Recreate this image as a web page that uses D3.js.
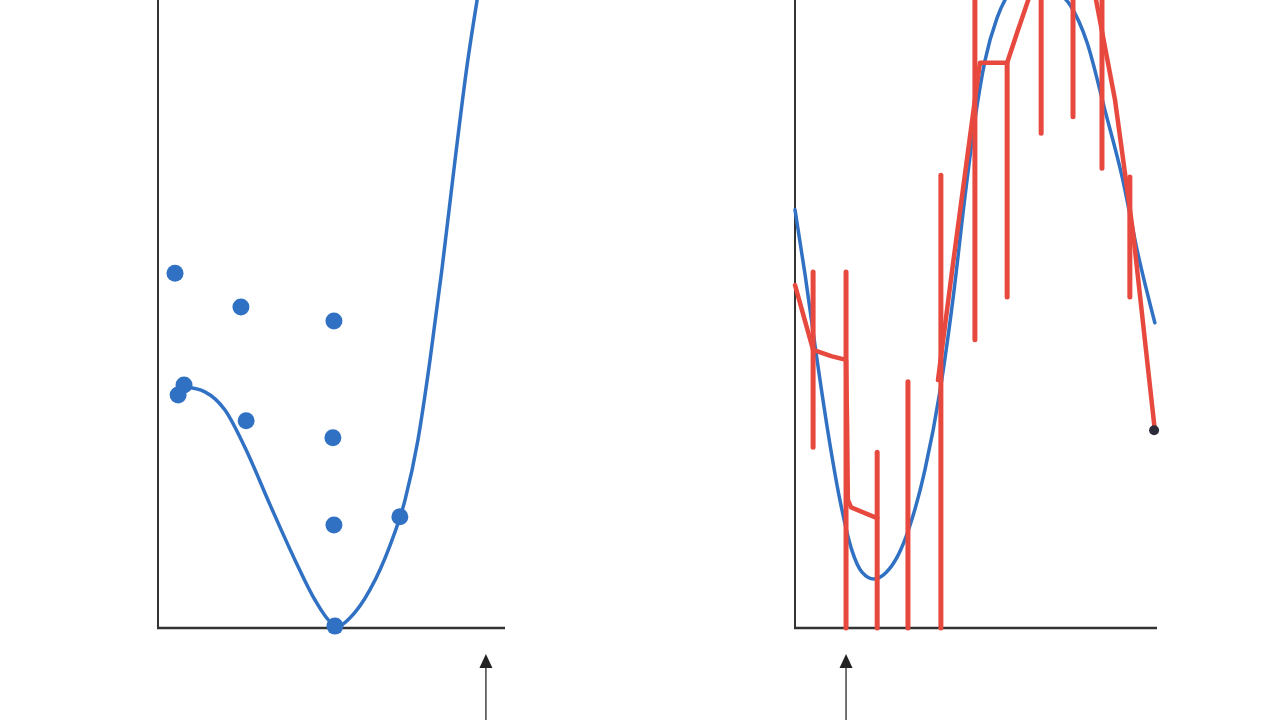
<!DOCTYPE html>
<html>
<head>
<meta charset="utf-8">
<script src="https://cdn.jsdelivr.net/npm/d3@7"></script>
<style>
  html, body { margin: 0; padding: 0; background: #fff; }
  svg { display: block; }
</style>
</head>
<body>
<svg width="1280" height="720"></svg>
<script>
// left panel: sample points and fitted curve
const leftPoints = [
  [0.49, 5.65], [2.39, 5.11], [5.07, 4.89], [0.75, 3.87], [0.58, 3.71],
  [2.54, 3.30], [5.04, 3.03], [5.07, 1.64], [6.97, 1.77], [5.10, 0.03]
];
const leftCurve = [
  [0.78, 3.84], [1.35, 3.76], [1.93, 3.47], [2.51, 2.87], [3.23, 1.96],
  [3.95, 1.08], [4.52, 0.45], [4.96, 0.10], [5.19, 0.03], [5.53, 0.16],
  [6.11, 0.61], [6.69, 1.32], [7.12, 2.04], [7.49, 2.99], [7.84, 4.27],
  [8.18, 5.70], [8.56, 7.45], [8.90, 8.93], [9.22, 10.08]
];
const leftArrowX = 9.45;

// right panel: target curve, red fit pieces, vertical spikes
const rightCurve = [
  [0, 6.66], [0.28, 5.62], [0.55, 4.51], [0.88, 3.23], [1.24, 2.04],
  [1.57, 1.24], [1.85, 0.89], [2.18, 0.78], [2.51, 0.88], [2.85, 1.16],
  [3.18, 1.64], [3.59, 2.52], [4.01, 3.79], [4.36, 5.22], [4.70, 6.89],
  [4.97, 8.09], [5.25, 9.04], [5.58, 9.71], [5.99, 10.16], [6.57, 10.35],
  [7.18, 10.16], [7.60, 9.92], [8.07, 9.32], [8.56, 8.25], [9.03, 7.20],
  [9.48, 5.94], [9.94, 4.86]
];
const redPieces = [
  [[0, 5.46], [0.50, 4.43], [1.00, 4.33], [1.41, 4.27], [1.44, 3.2], [1.46, 2.04], [1.55, 1.92], [2.27, 1.75]],
  [[3.95, 3.95], [4.36, 5.78], [4.97, 8.41], [5.11, 9.0], [5.86, 9.0], [6.13, 9.47], [6.49, 10.08]],
  [[8.29, 10.08], [8.84, 8.41], [9.34, 6.29], [9.94, 3.15]]
];
const spikes = [
  [0.50, 5.67, 2.88], [1.41, 5.67, 0], [2.27, 2.80, 0], [3.12, 3.92, 0],
  [4.03, 7.21, 0], [4.97, 10.2, 4.59], [5.86, 9.0, 5.27], [6.80, 10.2, 7.88],
  [7.68, 10.2, 8.14], [8.48, 10.2, 7.32], [9.25, 7.18, 5.27]
];
const endPoint = [9.92, 3.15];
const rightArrowX = 1.41;

const blue = '#3071c3';
const red = '#e8493f';
const axisColor = '#333';

const svg = d3.select('svg');

const xL = d3.scaleLinear().domain([0, 10]).range([158, 505]);
const xR = d3.scaleLinear().domain([0, 10]).range([795, 1157]);
const y = d3.scaleLinear().domain([0, 10]).range([628, 0]);

function drawAxes(x) {
  svg.append('line')
    .attr('x1', x(0)).attr('x2', x(0))
    .attr('y1', y(10.2)).attr('y2', y(0))
    .attr('stroke', axisColor).attr('stroke-width', 2);
  svg.append('line')
    .attr('x1', x(0) - 1).attr('x2', x(10))
    .attr('y1', y(0)).attr('y2', y(0))
    .attr('stroke', axisColor).attr('stroke-width', 2.5);
}

function drawArrow(px) {
  svg.append('line')
    .attr('x1', px).attr('x2', px)
    .attr('y1', 720).attr('y2', 666)
    .attr('stroke', '#444').attr('stroke-width', 1.5);
  svg.append('path')
    .attr('d', `M${px},654 L${px - 6.5},668 L${px + 6.5},668 Z`)
    .attr('fill', '#222');
}

// left panel
drawAxes(xL);

let lineL = d3.line()
  .x(d => xL(d[0]))
  .y(d => y(d[1]))
  .curve(d3.curveMonotoneX);

svg.append('path')
  .datum(leftCurve)
  .attr('d', lineL)
  .attr('fill', 'none')
  .attr('stroke', blue)
  .attr('stroke-width', 3.5)
  .attr('stroke-linecap', 'round');

svg.selectAll('.dot')
  .data(leftPoints)
  .enter().append('circle')
    .attr('class', 'dot')
    .attr('cx', d => xL(d[0]))
    .attr('cy', d => y(d[1]))
    .attr('r', 8.5)
    .attr('fill', blue);

drawArrow(xL(leftArrowX));

// right panel
drawAxes(xR);

let lineR = d3.line()
  .x(d => xR(d[0]))
  .y(d => y(d[1]))
  .curve(d3.curveMonotoneX);

svg.append('path')
  .datum(rightCurve)
  .attr('d', lineR)
  .attr('fill', 'none')
  .attr('stroke', blue)
  .attr('stroke-width', 3.5)
  .attr('stroke-linecap', 'round');

svg.selectAll('.spike')
  .data(spikes)
  .enter().append('line')
    .attr('class', 'spike')
    .attr('x1', d => xR(d[0])).attr('x2', d => xR(d[0]))
    .attr('y1', d => y(d[1])).attr('y2', d => y(d[2]))
    .attr('stroke', red)
    .attr('stroke-width', 5)
    .attr('stroke-linecap', 'round');

let redLine = d3.line()
  .x(d => xR(d[0]))
  .y(d => y(d[1]))
  .curve(d3.curveLinear);

svg.selectAll('.redpiece')
  .data(redPieces)
  .enter().append('path')
    .attr('class', 'redpiece')
    .attr('d', redLine)
    .attr('fill', 'none')
    .attr('stroke', red)
    .attr('stroke-width', 4.5)
    .attr('stroke-linejoin', 'round')
    .attr('stroke-linecap', 'round');

svg.append('circle')
  .attr('cx', xR(endPoint[0]))
  .attr('cy', y(endPoint[1]))
  .attr('r', 5)
  .attr('fill', '#2b2b3a');

drawArrow(xR(rightArrowX));
</script>
</body>
</html>
